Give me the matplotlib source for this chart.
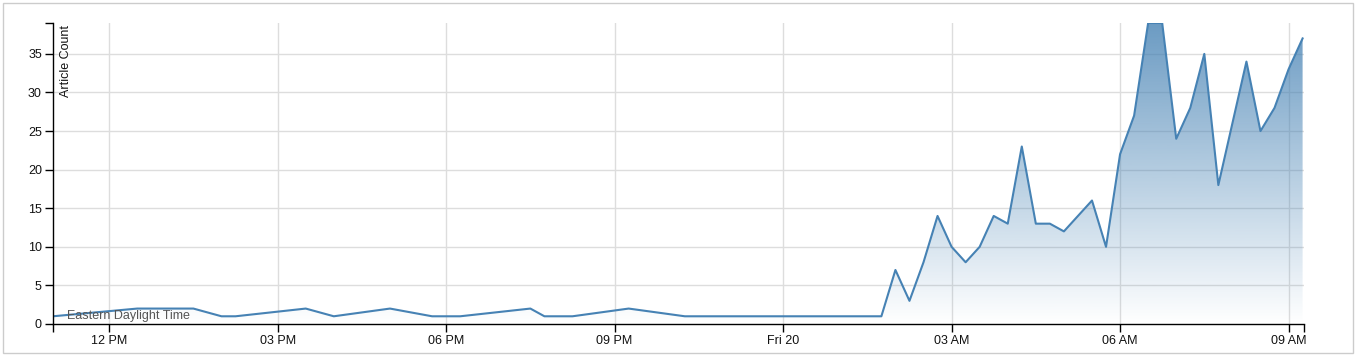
import pandas as pd
import numpy as np
import matplotlib
matplotlib.use('Agg')
import matplotlib.pyplot as plt
import matplotlib.dates as mdates
from matplotlib.patches import Rectangle

plt.rcParams['font.family'] = ['Liberation Sans', 'DejaVu Sans']

# article counts per 15 min slot (EDT), empty slots are skipped
times = ['2019-09-19 11:00', '2019-09-19 12:30', '2019-09-19 13:30', '2019-09-19 14:00',
         '2019-09-19 14:15', '2019-09-19 15:30', '2019-09-19 16:00', '2019-09-19 17:00',
         '2019-09-19 17:45', '2019-09-19 18:15', '2019-09-19 19:30', '2019-09-19 19:45',
         '2019-09-19 20:15', '2019-09-19 21:15', '2019-09-19 22:15',
         '2019-09-20 01:45', '2019-09-20 02:00', '2019-09-20 02:15', '2019-09-20 02:30',
         '2019-09-20 02:45', '2019-09-20 03:00', '2019-09-20 03:15', '2019-09-20 03:30',
         '2019-09-20 03:45', '2019-09-20 04:00', '2019-09-20 04:15', '2019-09-20 04:30',
         '2019-09-20 04:45', '2019-09-20 05:00', '2019-09-20 05:15', '2019-09-20 05:30',
         '2019-09-20 05:45', '2019-09-20 06:00', '2019-09-20 06:15', '2019-09-20 06:30',
         '2019-09-20 06:45', '2019-09-20 07:00', '2019-09-20 07:15', '2019-09-20 07:30',
         '2019-09-20 07:45', '2019-09-20 08:00', '2019-09-20 08:15', '2019-09-20 08:30',
         '2019-09-20 08:45', '2019-09-20 09:00', '2019-09-20 09:15']
counts = [1, 2, 2, 1,
          1, 2, 1, 2,
          1, 1, 2, 1,
          1, 2, 1,
          1, 7, 3, 8,
          14, 10, 8, 10,
          14, 13, 23, 13,
          13, 12, 14, 16,
          10, 22, 27, 39,
          39, 24, 28, 35,
          18, 26, 34, 25,
          28, 33, 37]
tick_times = ['2019-09-19 12:00', '2019-09-19 15:00', '2019-09-19 18:00', '2019-09-19 21:00',
              '2019-09-20 00:00', '2019-09-20 03:00', '2019-09-20 06:00', '2019-09-20 09:00']
y_ticks = [0, 5, 10, 15, 20, 25, 30, 35]

x = mdates.date2num(pd.to_datetime(times))
y = np.array(counts)
xt = mdates.date2num(pd.to_datetime(tick_times))

W, H = 1358, 359
fig = plt.figure(figsize=(W / 100, H / 100), dpi=100)
fig.patches.append(Rectangle((3 / W, 6 / H), 1350 / W, 350 / H, transform=fig.transFigure,
                             fill=False, edgecolor='#cccccc', linewidth=1))
ax = fig.add_axes([53 / W, (H - 324) / H, 1251 / W, 301 / H])

x0 = x[0]
x1 = x[-1] + 1.5 / 1440
ymax = y.max()

# gradient fill under the line
poly = ax.fill_between(x, 0, y, facecolor='none', edgecolor='none')
alpha = np.linspace(0, 0.8, 256).reshape(-1, 1)
rgba = np.zeros((256, 1, 4))
rgba[..., 0] = 70 / 255
rgba[..., 1] = 130 / 255
rgba[..., 2] = 180 / 255
rgba[..., 3] = alpha
img = ax.imshow(rgba, extent=[x0, x1, 0, ymax], origin='lower', aspect='auto', zorder=1)
img.set_clip_path(poly.get_paths()[0], transform=ax.transData)

ax.plot(x, y, color='#4682b4', linewidth=1.5, zorder=2)

ax.set_xlim(x0, x1)
ax.set_ylim(0, ymax)

ax.set_xticks(list(xt) + [x0, x1])
labels = []
for t in pd.to_datetime(tick_times):
    if t.hour == 0:
        labels.append(t.strftime('%a %d'))
    else:
        labels.append(t.strftime('%I %p'))
ax.set_xticklabels(labels + ['', ''])
ax.set_yticks(y_ticks + [ymax])
ax.set_yticklabels([str(v) for v in y_ticks] + [''])

ax.grid(True, color='#dddddd', linewidth=1)
ax.set_axisbelow(True)
# no grid line on the outer ticks
for gl in ax.xaxis.get_gridlines()[-2:]:
    gl.set_visible(False)
ax.yaxis.get_gridlines()[-1].set_visible(False)
ax.yaxis.get_gridlines()[0].set_visible(False)

ax.tick_params(axis='both', direction='out', length=6, width=1, color='black',
               labelsize=9, labelcolor='#111111')
ax.tick_params(axis='y', pad=2)
ax.tick_params(axis='x', pad=2)
ax.spines['top'].set_visible(False)
ax.spines['right'].set_visible(False)
ax.spines['left'].set_linewidth(1)
ax.spines['bottom'].set_linewidth(1)

ax.text(0.0105, 0.993, 'Article Count', transform=ax.transAxes, rotation=90,
        ha='center', va='top', fontsize=9, color='#111111')
ax.text(0.0112, 0.028, 'Eastern Daylight Time', transform=ax.transAxes,
        ha='left', va='center', fontsize=9, color='#555555', zorder=3)

fig.savefig('out.png', dpi=100)
